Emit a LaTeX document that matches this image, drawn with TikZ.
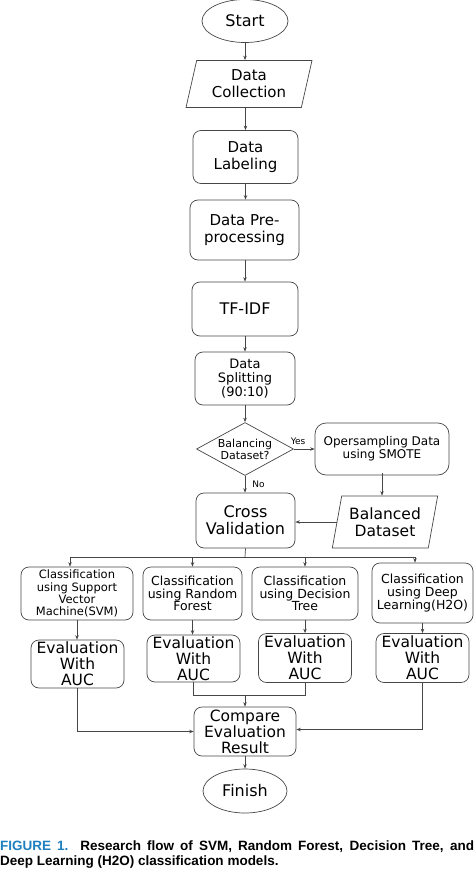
\documentclass[tikz,border=0pt]{standalone}
\usepackage{fontspec}
\setmainfont{DejaVu Sans}
\newfontfamily\capfont{Liberation Sans}
\usetikzlibrary{shapes.geometric,arrows.meta}
\definecolor{capblue}{RGB}{30,128,190}
\definecolor{linec}{RGB}{70,70,70}
\newcommand\myfs[2]{\fontsize{#1}{#2}\selectfont}
\begin{document}
\begin{tikzpicture}[x=1pt,y=-1pt,
  box/.style={draw=linec, line width=0.7pt, rounded corners=8pt, align=center, inner sep=0pt},
  term/.style={draw=linec, line width=0.7pt, ellipse, align=center, inner sep=0pt},
  iobox/.style={draw=linec, line width=0.7pt, trapezium, trapezium left angle=75, trapezium right angle=105, trapezium stretches=true, align=center, inner sep=0pt},
  decbox/.style={draw=linec, line width=0.7pt, diamond, aspect=2, align=center, inner sep=0pt},
  arr/.style={-{Stealth[length=4.5pt,width=3.5pt]}, draw=linec, line width=0.7pt},
  ln/.style={draw=linec, line width=0.7pt},
  lbl/.style={font=\myfs{9}{10}, inner sep=1pt}]
\useasboundingbox (0,0) rectangle (474,869);

\node[term, minimum width=86, minimum height=43, font=\myfs{16}{18}] (start) at (245,21) {Start};
\node[iobox, minimum width=126, minimum height=47, font=\myfs{15}{17}] (dc) at (249,84) {Data\\Collection};
\node[box, minimum width=105, minimum height=53, font=\myfs{15}{17}] (dl) at (245.5,157) {Data\\Labeling};
\node[box, minimum width=109, minimum height=60, font=\myfs{15}{17}] (dp) at (244.5,230) {Data Pre-\\processing};
\node[box, minimum width=106, minimum height=54, font=\myfs{16}{18}] (tf) at (245,309) {TF-IDF};
\node[box, minimum width=100, minimum height=53, font=\myfs{13}{14}] (ds) at (245,378.5) {Data\\Splitting\\(90:10)};
\node[decbox, minimum width=97, minimum height=53, font=\myfs{11}{12}] (bal) at (245,449) {Balancing\\Dataset?};
\node[box, rounded corners=11pt, minimum width=134, minimum height=52, font=\myfs{12}{13}] (ov) at (382,449) {Opersampling Data\\using SMOTE};
\node[box, minimum width=99, minimum height=55, font=\myfs{16}{17}] (cv) at (245.5,520.5) {Cross\\Validation};
\node[iobox, minimum width=106, minimum height=52, font=\myfs{15.5}{17}] (bd) at (385,522) {Balanced\\Dataset};

\node[box, minimum width=112, minimum height=53, font=\myfs{11.5}{12.2}] (c1) at (77,593.5) {Classification\\using Support\\Vector\\Machine(SVM)};
\node[box, minimum width=99, minimum height=53, font=\myfs{12.5}{12.8}] (c2) at (192.5,593.5) {Classification\\using Random\\Forest};
\node[box, minimum width=106, minimum height=53, font=\myfs{12.5}{12.8}] (c3) at (305,593.5) {Classification\\using Decision\\Tree};
\node[box, minimum width=101, minimum height=60, font=\myfs{12.5}{12.8}] (c4) at (422.5,593) {Classification\\using Deep\\Learning(H2O)};

\node[box, minimum width=93, minimum height=48, font=\myfs{15.5}{16}] (e1) at (77.5,664) {Evaluation\\With\\AUC};
\node[box, minimum width=93, minimum height=47, font=\myfs{15.5}{16}] (e2) at (193.5,658.5) {Evaluation\\With\\AUC};
\node[box, minimum width=93, minimum height=49, font=\myfs{15.5}{16}] (e3) at (305,658) {Evaluation\\With\\AUC};
\node[box, minimum width=93, minimum height=49, font=\myfs{15.5}{16}] (e4) at (422.5,658) {Evaluation\\With\\AUC};

\node[box, minimum width=102, minimum height=49, font=\myfs{15.5}{16}] (cmp) at (245,731.5) {Compare\\Evaluation\\Result};
\node[term, minimum width=84, minimum height=44, font=\myfs{16}{18}] (fin) at (245,791) {Finish};

% main column
\draw[arr] (start.south) -- (start.south |- dc.north);
\draw[arr] (dl.north |- dc.south) -- (dl.north);
\draw[arr] (dl.south) -- (dl.south |- dp.north);
\draw[arr] (tf.north |- dp.south) -- (tf.north);
\draw[arr] (tf.south) -- (tf.south |- ds.north);
\draw[arr] (ds.south) -- (bal.north);
\draw[arr] (bal.east) -- (ov.west) node[lbl, pos=0.2, above, yshift=3pt] (yes) {Yes};
\draw[arr] (bal.south) -- (bal.south |- cv.north) node[lbl, midway, right, xshift=6pt] (no) {No};
\draw[arr] (ov.south) ++(0,-2) coordinate (ovs) -- (ovs |- bd.north);
\draw[arr] (bd.west) -- (bd.west -| cv.east);

% split
\coordinate (sp) at (245,557);
\draw[ln] (cv.south) -- (sp);
\draw[arr] (sp) -| ([xshift=-7pt]c1.north);
\draw[arr] (sp) -| (c2.north);
\draw[arr] (sp) -| (c3.north);
\draw[arr] (sp) -| ([xshift=-7.5pt]c4.north);

\draw[arr] (c1.south) -- (c1.south |- e1.north);
\draw[arr] (c2.south) -- (c2.south |- e2.north);
\draw[arr] (c3.south) -- (c3.south |- e3.north);
\draw[arr] (c4.south) -- (c4.south |- e4.north);

% merge
\coordinate (jn) at (245,695);
\draw[ln] (e2.south) |- (e3.south |- jn) -- (e3.south);
\draw[arr] (jn) -- (cmp.north);
\draw[arr] (e1.south) |- (cmp.west);
\draw[arr] (e4.south) |- ([yshift=2pt]cmp.east);
\draw[arr] (cmp.south) -- (fin.north);

% caption
\node[anchor=base west, inner sep=0pt, font=\capfont\bfseries\myfs{13.5}{15}] (cap1) at (0,850)
  {\makebox[474pt][s]{\textcolor{capblue}{FIGURE 1.} Research flow of SVM, Random Forest, Decision Tree, and}};
\node[anchor=base west, inner sep=0pt, font=\capfont\bfseries\myfs{13.5}{15}] (cap2) at (0,865)
  {Deep Learning (H2O) classification models.};
\end{tikzpicture}
\end{document}
